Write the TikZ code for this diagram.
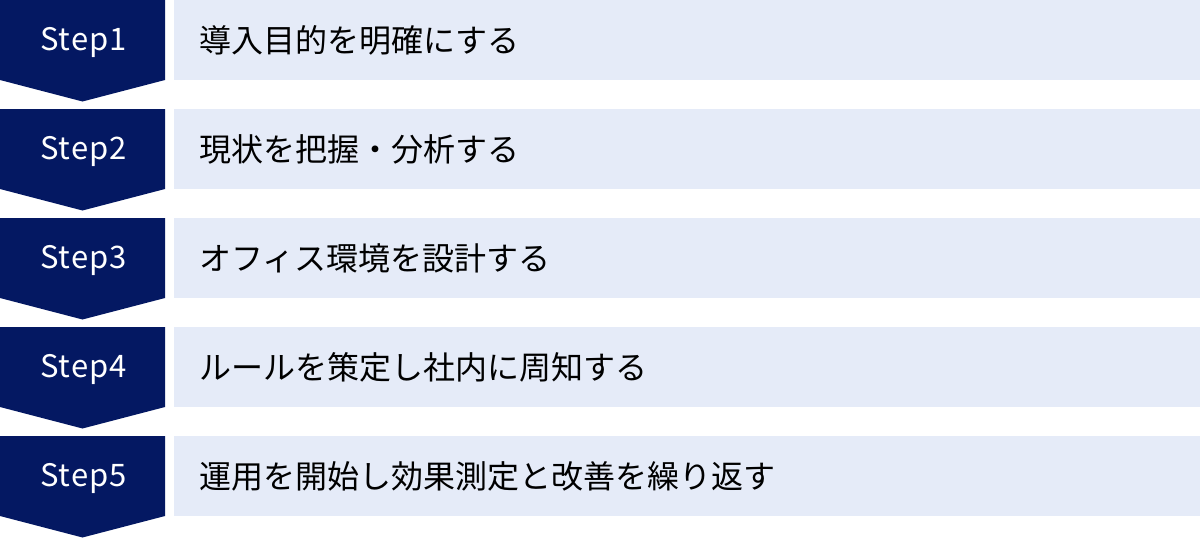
\documentclass[tikz,border=0pt]{standalone}
\usepackage{fontspec}
\setmainfont{Noto Sans CJK JP}
\newfontfamily\stepfamily[LetterSpace=3]{Noto Sans CJK JP}
\definecolor{navy}{RGB}{4,24,98}
\definecolor{paleblue}{RGB}{229,235,248}
\tikzset{
  steplabel/.style={text=white,inner sep=0pt,font=\stepfamily\fontsize{31}{36}\selectfont},
  steptext/.style={anchor=west,inner sep=0pt,font=\fontsize{32}{38}\selectfont}
}
\begin{document}
\begin{tikzpicture}[x=1pt,y=-1pt]
  \useasboundingbox (0,0) rectangle (1200,538);
  \foreach \i/\txt in {1/導入目的を明確にする,2/現状を把握・分析する,3/オフィス環境を設計する,4/ルールを策定し社内に周知する,5/運用を開始し効果測定と改善を繰り返す}{
    \pgfmathsetmacro{\ytop}{(\i-1)*109}
    %freccia
    \fill[navy] (0,\ytop) -- (165,\ytop) -- (165,\ytop+80) -- (82.5,\ytop+101.5) -- (0,\ytop+80) -- cycle;
    \node[steplabel] (step\i) at (83.5,\ytop+42) {Step\i};
    %riquadro
    \fill[paleblue] (174,\ytop) rectangle (1200,\ytop+80);
    \node[steptext] (text\i) at (199,\ytop+40) {\txt};
  }
\end{tikzpicture}
\end{document}
